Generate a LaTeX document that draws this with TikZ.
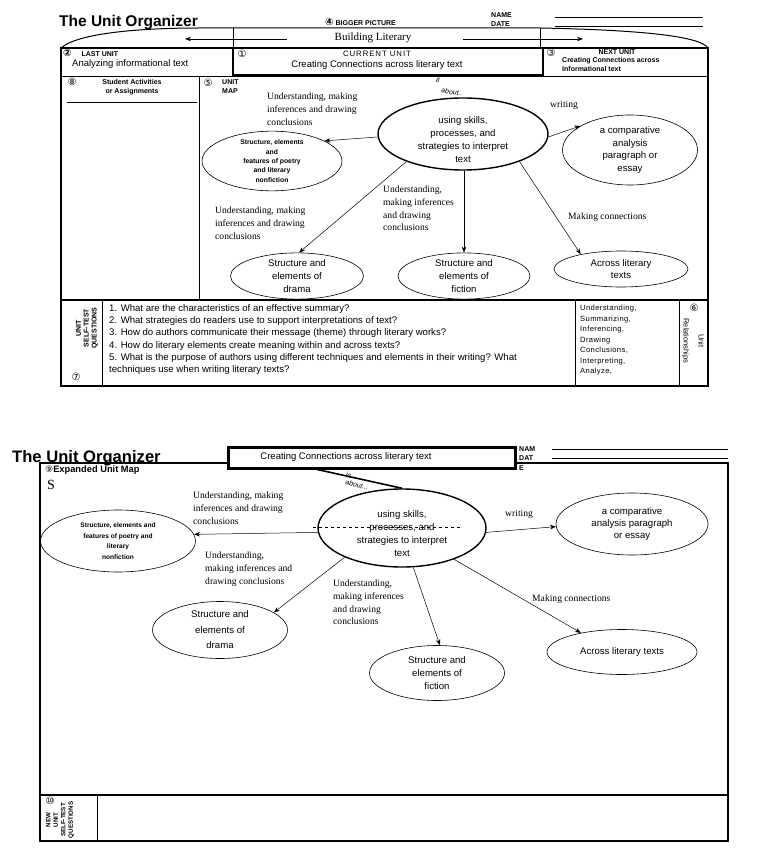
\documentclass[tikz,border=0pt]{standalone}
\usepackage{fontspec}
\setmainfont{Liberation Sans}
\newfontfamily\serf{Liberation Serif}
\newfontfamily\dv{DejaVu Sans}
\usetikzlibrary{shapes.geometric,arrows.meta}
\newcommand{\myfs}[2]{\fontsize{#1}{#2}\selectfont}
\newcommand{\cnum}[1]{{\dv\myfs{10}{10}#1}}
\begin{document}
\begin{tikzpicture}[x=1pt,y=-1pt,
  ell/.style={draw, ellipse, inner sep=0pt, line width=0.6pt, align=center, font=\myfs{9.6}{12.8}},
  bigell/.style={ell, line width=1.4pt},
  small/.style={ell, font=\bfseries\myfs{6.8}{9.3}},
  lab/.style={anchor=north west, align=left, inner sep=0pt, font=\serf\myfs{9.6}{12.6}},
  arr/.style={-{Stealth[length=6pt,width=4.5pt]}, line width=0.5pt},
  hdr/.style={inner sep=0pt, font=\bfseries\myfs{7}{9.5}},
  txt/.style={inner sep=0pt, font=\myfs{9.5}{11}},
  title/.style={inner sep=0pt, font=\bfseries\myfs{15.5}{18}},
  frame/.style={line width=1.2pt},
  rule/.style={line width=0.7pt}
]
\useasboundingbox (0,0) rectangle (768,866);

% ================= TOP ORGANIZER =================
\node[title, anchor=base west] (t1) at (59,27) {The Unit Organizer};
\node[hdr, anchor=west] (bp) at (325,22) {\cnum{④} BIGGER PICTURE};
\node[hdr, anchor=west] (nm) at (491,15) {NAME};
\node[hdr, anchor=west] (dt) at (491,24) {DATE};
\draw[rule] (555,17) -- (703,17) (555,26) -- (703,26);

\draw[line width=1pt] (61,48) .. controls (78,33) and (140,28) .. (200,28) -- (540,28)
      .. controls (640,30) and (700,36) .. (708,48);
\draw[rule] (233,28) -- (233,48) (540,28) -- (540,48);
\node[inner sep=0pt, font=\serf\myfs{11}{12}] (bl) at (373,38) {Building Literary};
\coordinate (la1) at (287,39); \coordinate (la2) at (185,39);
\coordinate (ra1) at (463,39); \coordinate (ra2) at (583,39);
\draw[arr, line width=0.8pt] (la1) -- (la2);
\draw[arr, line width=0.8pt] (ra1) -- (ra2);

\draw[frame] (61,48) rectangle (708,386);
\draw[rule] (61,76) -- (708,76);
\draw[line width=2.6pt] (233,48) rectangle (543,75);

\node[hdr, anchor=west] (n2) at (63,53) {\cnum{②}\hspace{10pt}LAST UNIT};
\node[txt, anchor=west] (lu) at (72,64) {Analyzing informational text};
\node[inner sep=0pt] (n1) at (242,54) {\cnum{①}};
\node[inner sep=0pt, font=\myfs{7.8}{9}\addfontfeature{LetterSpace=12}] (cu) at (377,54) {CURRENT UNIT};
\node[txt] (cut) at (377,65) {Creating Connections across literary text};
\node[inner sep=0pt] (n3) at (551,53) {\cnum{③}};
\node[hdr] (nu) at (617,52) {NEXT UNIT};
\node[hdr, anchor=north west, align=left] (nut) at (562,57) {Creating Connections across\\Informational text};

% left panel
\draw[rule] (199,76) -- (199,300);
\draw[rule] (67,102) -- (197,102);
\node[inner sep=0pt] (n8) at (72,82) {\cnum{⑧}};
\node[hdr, align=center] (sa) at (132,87) {Student Activities\\or Assignments};
\node[inner sep=0pt] (n5) at (208,83) {\cnum{⑤}};
\node[hdr, anchor=north west, align=left] (um) at (222,79) {UNIT\\MAP};

% unit map
\node[bigell, minimum width=170pt, minimum height=72pt] (c1) at (463,134) {};
\node[inner sep=0pt, align=center, font=\myfs{9.6}{13}] (c1t) at (463,140) {using skills,\\processes, and\\strategies to interpret\\text};
\node[inner sep=0pt, font=\itshape\myfs{7}{8}, rotate=-8] (it1) at (438,80) {it};
\node[inner sep=0pt, font=\itshape\myfs{7}{8}, rotate=-8] (ab1) at (452,92) {about..};
\node[small, minimum width=140pt, minimum height=54pt] (p1) at (272,161) {Structure, elements\\and\\features of poetry\\and literary\\nonfiction};
\node[ell, minimum width=135pt, minimum height=70pt, font=\myfs{9.6}{12.4}] (w1) at (630,150) {a comparative\\analysis\\paragraph or\\essay};
\node[ell, minimum width=133pt, minimum height=42pt, font=\myfs{9.6}{12.8}] (d1) at (297,276) {Structure and\\elements of\\drama};
\node[ell, minimum width=132pt, minimum height=42pt, font=\myfs{9.6}{12.8}] (f1) at (464,276) {Structure and\\elements of\\fiction};
\node[ell, minimum width=134pt, minimum height=36pt, font=\myfs{9.6}{12.8}] (a1) at (621,269) {Across literary\\texts};

\node[lab] (l1) at (267,93) {Understanding, making\\inferences and drawing\\conclusions};
\node[lab] (l2) at (215,207) {Understanding, making\\inferences and drawing\\conclusions};
\node[lab] (l3) at (383,186) {Understanding,\\making inferences\\and drawing\\conclusions};
\node[lab] (l4) at (550,101) {writing};
\node[lab] (l5) at (568,213) {Making connections};

\draw[arr] (c1.182) -- (p1.21);
\draw[arr] (c1.-2) -- (w1.154);
\draw[arr] (c1.206) -- (d1.85);
\draw[arr] ([xshift=1pt]c1.south) -- (f1.north);
\draw[arr] (c1.-26) -- (a1.160);

% self-test row
\draw[frame] (61,300) -- (708,300);
\draw[rule] (102,300) -- (102,386) (575,300) -- (575,386) (679,300) -- (679,386);
\node[rotate=90, align=center, inner sep=0pt, font=\bfseries\myfs{7}{7.8}] (ust) at (87,328) {UNIT\\SELF-TEST\\QUESTIONS};
\node[inner sep=0pt] (n7) at (76,377) {\cnum{⑦}};
\node[anchor=north west, align=left, inner sep=0pt, font=\myfs{9.6}{12.3}] (q) at (109,304) {1. What are the characteristics of an effective summary?\\
2. What strategies do readers use to support interpretations of text?\\
3. How do authors communicate their message (theme) through literary works?\\
4. How do literary elements create meaning within and across texts?\\
5. What is the purpose of authors using different techniques and elements in their writing? What\\
techniques use when writing literary texts?};
\node[anchor=north west, align=left, inner sep=0pt, font=\myfs{7.6}{10.5}\addfontfeature{LetterSpace=5}] (rel) at (580,305) {Understanding,\\Summarizing,\\Inferencing,\\Drawing\\Conclusions,\\Interpreting,\\Analyze,};
\node[inner sep=0pt] (n6) at (694,308) {\cnum{⑥}};
\node[rotate=-90, align=center, inner sep=0pt, font=\myfs{7.5}{15}] (ur) at (693,341) {Unit\\Relationships};

% ================= BOTTOM: EXPANDED MAP =================
\draw[frame] (40,463) rectangle (728,841);
\node[title, anchor=base west, font=\bfseries\myfs{16.6}{19}] (t2) at (12,462) {The Unit Organizer};
\draw[line width=3pt, fill=white] (228,447) rectangle (515,468);
\node[txt] (bxt) at (346,457) {Creating Connections across literary text};
\coordinate (bxs) at (315,469);
\node[hdr, anchor=west] (nm2) at (519,449) {NAM};
\node[hdr, anchor=west] (dt2) at (519,458) {DAT};
\node[hdr, anchor=west] (e2) at (519,468) {E};
\draw[rule] (552,449) -- (728,449) (552,458) -- (728,458);

\node[inner sep=0pt, anchor=west] (n9) at (45,470) {{\dv\myfs{9}{9}⑨}{\bfseries\myfs{9.3}{11}Expanded Unit Map}};
\node[inner sep=0pt, font=\serf\myfs{14}{15}] (s2) at (51,485) {S};

\node[bigell, minimum width=168pt, minimum height=78pt] (c2) at (402,528) {};
\node[inner sep=0pt, align=center, font=\myfs{9.6}{13}] (c2t) at (402,534) {using skills,\\processes, and\\strategies to interpret\\text};
\draw[line width=0.5pt, dash pattern=on 3pt off 3pt] (313,527) -- (460,527);
\draw[line width=1.6pt] (bxs) -- (c2.north);
\node[inner sep=0pt, font=\itshape\myfs{7}{8}, rotate=-13] (is2) at (349,475) {is};
\node[inner sep=0pt, font=\itshape\myfs{7}{8}, rotate=-13] (ab2) at (357,485) {about...};

\node[small, minimum width=155pt, minimum height=62pt, font=\bfseries\myfs{6.6}{10.5}] (p2) at (118,541) {Structure, elements and\\features of poetry and\\literary\\nonfiction};
\node[ell, minimum width=152pt, minimum height=62pt, font=\myfs{9.6}{12.4}] (w2) at (632,524) {a comparative\\analysis paragraph\\or essay};
\node[ell, minimum width=135pt, minimum height=57pt, font=\myfs{9.6}{15.5}] (d2) at (220,630) {Structure and\\elements of\\drama};
\node[ell, minimum width=135pt, minimum height=55pt, font=\myfs{9.6}{12.8}] (f2) at (437,673) {Structure and\\elements of\\fiction};
\node[ell, minimum width=150pt, minimum height=45pt, font=\myfs{9.6}{12.8}] (a2) at (622,652) {Across literary texts};

\node[lab] (m1) at (193,492) {Understanding, making\\inferences and drawing\\conclusions};
\node[lab] (m2) at (205,552) {Understanding,\\making inferences and\\drawing conclusions};
\node[lab] (m3) at (333,580) {Understanding,\\making inferences\\and drawing\\conclusions};
\node[lab] (m4) at (505,510) {writing};
\node[lab] (m5) at (532,595) {Making connections};

\draw[arr] (c2.183) -- (p2.5);
\draw[arr] (c2.-3) -- (w2.182);
\draw[arr] (c2.207) -- (d2.18);
\draw[arr] (c2.286) -- (f2.84);
\draw[arr] (c2.329) -- (a2.155);

\draw[line width=1.5pt] (40,795) -- (728,795);
\draw[rule] (97,795) -- (97,841);
\node[rotate=90, align=center, inner sep=0pt, font=\bfseries\myfs{6.2}{7.5}] (nq) at (60,820) {NEW\\UNIT\\SELF-TEST\\QUESTIONS};
\node[inner sep=0pt] (n10) at (50,801) {{\dv\myfs{10}{10}⑩}};
\end{tikzpicture}
\end{document}
